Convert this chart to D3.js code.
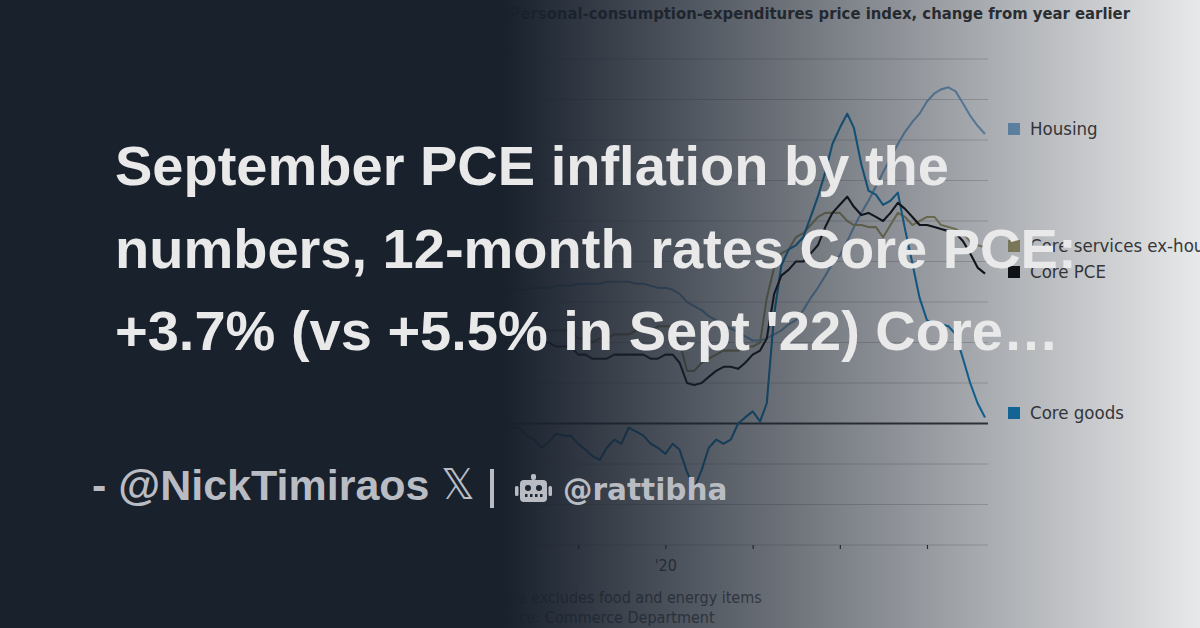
<!DOCTYPE html>
<html>
<head>
<meta charset="utf-8">
<script src="https://cdn.jsdelivr.net/npm/d3@7"></script>
<style>
  html, body { margin: 0; padding: 0; background: #ffffff; overflow: hidden; }
  svg { display: block; }
</style>
</head>
<body>
<svg id="card" width="1200" height="628"></svg>
<script>
// ---------------- DATA ----------------
const startMonth = "2018-01";
const endMonth = "2023-09";

const seriesNames = ["Housing", "Core services ex-housing", "Core PCE", "Core goods"];

const housing = [
  3.3, 3.3, 3.3, 3.3, 3.3, 3.3, 3.35, 3.35, 3.35, 3.4, 3.4, 3.4,
  3.45, 3.45, 3.45, 3.45, 3.5, 3.5, 3.5, 3.5, 3.45, 3.45, 3.4, 3.35,
  3.35, 3.3, 3.2, 3.0, 2.9, 2.8, 2.65, 2.55, 2.45, 2.35, 2.25, 2.15,
  2.05, 2.05, 2.1, 2.2, 2.3, 2.45, 2.55, 2.8, 3.1, 3.35, 3.65, 3.95,
  4.15, 4.5, 4.85, 5.2, 5.5, 5.85, 6.2, 6.55, 6.9, 7.2, 7.45, 7.65,
  7.95, 8.15, 8.25, 8.3, 8.2, 7.9, 7.6, 7.35, 7.15
];
const servicesExHousing = [
  2.2, 2.3, 2.3, 2.4, 2.4, 2.4, 2.4, 2.3, 2.3, 2.3, 2.3, 2.3,
  2.1, 2.1, 2.0, 2.1, 2.1, 2.2, 2.2, 2.2, 2.3, 2.3, 2.3, 2.4,
  2.4, 2.4, 2.0, 1.3, 1.3, 1.5, 1.6, 1.7, 1.8, 1.8, 1.8, 1.9,
  1.9, 2.0, 3.1, 3.85, 4.2, 4.3, 4.6, 4.7, 4.9, 5.1, 5.2, 5.2,
  5.2, 5.0, 4.9, 4.9, 4.85, 4.85, 4.6, 4.9, 5.2, 5.1, 4.9, 5.0,
  5.1, 5.1, 4.9, 4.85, 4.8, 4.7, 4.5, 4.4, 4.35
];
const corePCE = [
  1.9, 1.9, 2.0, 2.0, 2.0, 2.0, 2.0, 2.0, 2.0, 1.9, 1.9, 1.9,
  1.7, 1.7, 1.6, 1.6, 1.6, 1.7, 1.7, 1.7, 1.7, 1.7, 1.6, 1.6,
  1.7, 1.7, 1.5, 1.0, 0.95, 1.0, 1.15, 1.3, 1.4, 1.4, 1.35, 1.5,
  1.7, 1.8, 2.1, 3.2, 3.65, 3.8, 4.0, 4.0, 4.2, 4.4, 4.85, 5.2,
  5.4, 5.6, 5.35, 5.15, 5.2, 5.1, 5.0, 5.2, 5.45, 5.3, 5.1, 4.9,
  4.9, 4.85, 4.8, 4.75, 4.7, 4.5, 4.2, 3.85, 3.7
];
const coreGoods = [
  0.0, 0.1, 0.0, -0.1, -0.1, -0.3, -0.4, -0.6, -0.45, -0.25, -0.3, -0.3,
  -0.5, -0.65, -0.8, -0.9, -0.6, -0.4, -0.5, -0.1, -0.2, -0.3, -0.5, -0.6,
  -0.75, -0.5, -0.65, -1.2, -1.6, -1.15, -0.6, -0.4, -0.5, -0.4, 0.0, 0.15,
  0.3, 0.05, 0.5, 2.7, 3.9, 4.3, 4.4, 4.6, 5.1, 5.6, 6.2, 6.9,
  7.3, 7.65, 7.3, 6.4, 5.75, 5.65, 5.4, 5.5, 5.7, 4.8, 3.95, 3.1,
  2.55, 2.45, 2.45, 2.4, 2.2, 1.6, 1.0, 0.5, 0.15
];

const yTicks = [-3, -2, -1, 0, 1, 2, 3, 4, 5, 6, 7, 8, 9];
const yTickLabels = ["-3", "-2", "-1", "0", "1", "2", "3", "4", "5", "6", "7", "8", "9%"];
const xTickYears = ["2018", "2019", "2020", "2021", "2022", "2023"];
const xTickLabels = ["", "", "'20", "", "", ""];

const subtitle = "Personal-consumption-expenditures price index, change from year earlier";
const notes = ["*Core excludes food and energy items", "Source: Commerce Department"];

const titleLines = [
  "September PCE inflation by the",
  "numbers, 12-month rates Core PCE:",
  "+3.7% (vs +5.5% in Sept '22) Core\u2026"
];
const author = "- @NickTimiraos";
const xGlyph = "\uD835\uDD4F";
const siteHandle = "@rattibha";

// ---------------- STYLE ----------------
const colors = {
  "Housing": "#7fb0da",
  "Core services ex-housing": "#aaa36e",
  "Core PCE": "#0a0a0a",
  "Core goods": "#0f86c8"
};

// ---------------- DRAW ----------------
const svg = d3.select("#card");
const parse = d3.timeParse("%Y-%m");
const months = d3.timeMonth.range(parse(startMonth), d3.timeMonth.offset(parse(endMonth), 1));

const x = d3.scaleTime().domain([parse(startMonth), parse(endMonth)]).range([491, 985]);
const y = d3.scaleLinear().domain([-3, 9]).range([545, 59]);

// white chart background
svg.append("rect").attr("width", 1200).attr("height", 628).attr("fill", "#ffffff");

const chart = svg.append("g");
const narrow = "'Liberation Sans Narrow','DejaVu Sans Condensed','Roboto',sans-serif";

// subtitle
chart.append("text")
  .attr("x", 1130).attr("y", 19)
  .attr("text-anchor", "end")
  .attr("font-family", narrow)
  .attr("font-weight", "bold")
  .attr("font-size", 16.5)
  .attr("fill", "#333")
  .text(subtitle);

// gridlines
const xMin = 491, xMax = 988;
chart.append("g").selectAll("line")
  .data(yTicks)
  .join("line")
  .attr("x1", xMin).attr("x2", xMax)
  .attr("y1", d => y(d)).attr("y2", d => y(d))
  .attr("stroke", d => d === 0 ? "#3a3a3a" : "#d2d2d2")
  .attr("stroke-width", d => d === 0 ? 1.8 : 1);

// y tick labels (left edge, under the dark panel)
chart.append("g").selectAll("text")
  .data(yTicks)
  .join("text")
  .attr("x", xMin).attr("y", d => y(d) - 5)
  .attr("font-family", narrow)
  .attr("font-size", 15)
  .attr("fill", "#666")
  .text((d, i) => yTickLabels[i]);

// x axis (bottom)
const xAxis = d3.axisBottom(x)
  .tickValues(xTickYears.map(yr => parse(yr + "-01")))
  .tickSize(4)
  .tickFormat((d, i) => xTickLabels[i]);
const gx = chart.append("g").attr("transform", `translate(0,${y(-3)})`).call(xAxis);
gx.select(".domain").remove();
gx.selectAll(".tick line").attr("stroke", "#333").attr("stroke-width", 1.2);
gx.selectAll(".tick text")
  .attr("font-family", narrow)
  .attr("font-size", 16).attr("fill", "#555").attr("dy", "1.2em");

// notes
chart.append("g").selectAll("text")
  .data(notes)
  .join("text")
  .attr("x", 486).attr("y", (d, i) => 603 + i * 20)
  .attr("font-family", narrow)
  .attr("font-size", 16)
  .attr("fill", "#666")
  .text(d => d);

// lines
const seriesData = [
  { name: "Housing", values: housing },
  { name: "Core services ex-housing", values: servicesExHousing },
  { name: "Core goods", values: coreGoods },
  { name: "Core PCE", values: corePCE }
];
const line = d3.line()
  .x((d, i) => x(months[i]))
  .y(d => y(d));
chart.append("g").selectAll("path")
  .data(seriesData)
  .join("path")
  .attr("d", d => line(d.values))
  .attr("fill", "none")
  .attr("stroke", d => colors[d.name])
  .attr("stroke-width", 2.1)
  .attr("stroke-linejoin", "round");

// legend (labels near line ends)
const legendY = { "Housing": 129, "Core services ex-housing": 246, "Core PCE": 272, "Core goods": 413 };
const lg = chart.append("g").selectAll("g")
  .data(seriesNames)
  .join("g")
  .attr("transform", d => `translate(1008,${legendY[d]})`);
lg.append("rect").attr("x", 0).attr("y", -6).attr("width", 12).attr("height", 12)
  .attr("fill", d => colors[d]);
lg.append("text").attr("x", 22).attr("y", 0).attr("dy", "0.35em")
  .attr("font-family", narrow)
  .attr("font-size", 18.5)
  .attr("fill", "#3c3c3c")
  .text(d => d);

// ---------------- OVERLAY ----------------
const defs = svg.append("defs");
const grad = defs.append("linearGradient").attr("id", "fade")
  .attr("x1", "0").attr("x2", "1").attr("y1", "0").attr("y2", "0");
grad.append("stop").attr("offset", "0").attr("stop-color", "#19212d").attr("stop-opacity", 1);
grad.append("stop").attr("offset", "0.42").attr("stop-color", "#19212d").attr("stop-opacity", 1);
grad.append("stop").attr("offset", "1").attr("stop-color", "#19212d").attr("stop-opacity", 0.1);
svg.append("rect").attr("width", 1200).attr("height", 628).attr("fill", "url(#fade)");

// ---------------- TITLE ----------------
svg.append("g").selectAll("text")
  .data(titleLines)
  .join("text")
  .attr("x", 115)
  .attr("y", (d, i) => 185 + i * 82.5)
  .attr("font-family", "'Liberation Sans', Arial, sans-serif")
  .attr("font-weight", "bold")
  .attr("font-size", 56)
  .attr("fill", "#e9e9ea")
  .text(d => d);

// ---------------- FOOTER ----------------
const foot = svg.append("g").attr("fill", "#b9bdc3");
foot.append("text")
  .attr("x", 92).attr("y", 500)
  .attr("font-family", "'Liberation Sans', Arial, sans-serif")
  .attr("font-weight", "bold")
  .attr("font-size", 43)
  .text(author);
foot.append("text")
  .attr("x", 441).attr("y", 499)
  .attr("font-family", "'DejaVu Sans', 'Noto Sans', sans-serif")
  .attr("font-size", 42)
  .text(xGlyph);
foot.append("rect").attr("x", 490).attr("y", 469).attr("width", 4).attr("height", 39);

// robot icon
const robot = foot.append("g").attr("transform", "translate(515,474)");
robot.append("rect").attr("x", 16).attr("y", 0).attr("width", 5).attr("height", 6).attr("rx", 2);
robot.append("rect").attr("x", 5).attr("y", 6).attr("width", 27).attr("height", 22).attr("rx", 4);
robot.append("rect").attr("x", 0).attr("y", 12).attr("width", 3.5).attr("height", 10).attr("rx", 1.5);
robot.append("rect").attr("x", 33.5).attr("y", 12).attr("width", 3.5).attr("height", 10).attr("rx", 1.5);
robot.append("circle").attr("cx", 13).attr("cy", 14).attr("r", 3).attr("fill", "#1f2733");
robot.append("circle").attr("cx", 24).attr("cy", 14).attr("r", 3).attr("fill", "#1f2733");
[11, 16, 21, 26].forEach(cx => {
  robot.append("rect").attr("x", cx - 1).attr("y", 20).attr("width", 2.5).attr("height", 3).attr("fill", "#1f2733");
});

foot.append("text")
  .attr("x", 563).attr("y", 500)
  .attr("font-family", "'DejaVu Sans', Verdana, sans-serif")
  .attr("font-weight", "bold")
  .attr("font-size", 29.5)
  .text(siteHandle);
</script>
</body>
</html>
